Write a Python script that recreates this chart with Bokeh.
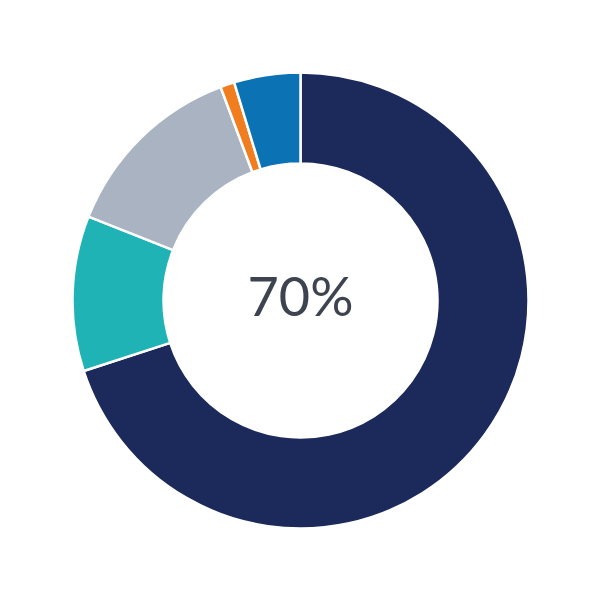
import math
from bokeh.plotting import figure
from bokeh.embed import file_html
from bokeh.resources import INLINE
from bokeh.models import ColumnDataSource
from bokeh.core.properties import value

categories = ["Navy", "Teal", "Gray", "Orange", "Blue"]
shares = [70.0, 11.0, 13.3, 1.0, 4.7]
colors = ["#1b2a5b", "#1fb3b6", "#a9b3c1", "#f07d1e", "#0b72b4"]
center_label = "70%"

total = sum(shares)
starts, ends = [], []
cum = 0.0
for s in shares:
    starts.append(math.pi / 2 - 2 * math.pi * cum / total)
    cum += s
    ends.append(math.pi / 2 - 2 * math.pi * cum / total)

src = ColumnDataSource(dict(cat=categories, share=shares, color=colors, start=starts, end=ends))

p = figure(width=584, height=584, x_range=(-300, 284), y_range=(-284, 300),
           output_backend="svg", toolbar_location=None, min_border=0)
p.axis.visible = False
p.grid.visible = False
p.outline_line_color = None
p.background_fill_color = "white"

p.annular_wedge(x=0, y=0, inner_radius=137, outer_radius=228, start_angle="start", end_angle="end",
                direction="clock", fill_color="color", line_color="white", line_width=2.5, source=src)

p.text(x=[0], y=[0], y_offset=-5, text=[center_label], text_align="center", text_baseline="middle",
       text_font=value("Lato"), text_font_size="54px", text_color="#3d4450")

open("out.html", "w").write(file_html(p, INLINE))
